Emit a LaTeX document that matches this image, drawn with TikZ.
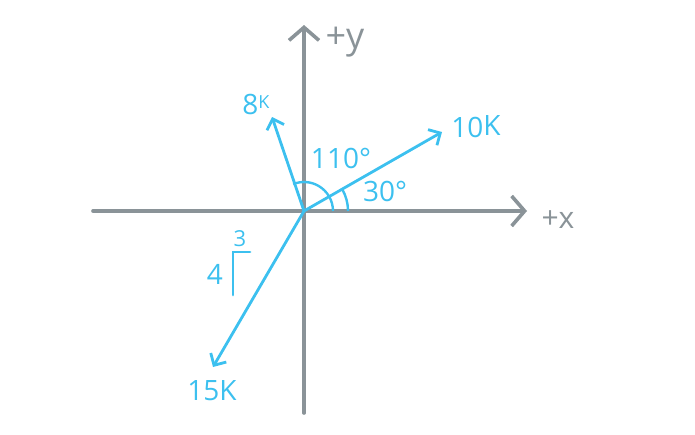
\documentclass[tikz,border=0pt]{standalone}
\usepackage{fontspec}
\setmainfont{Open Sans}
\usetikzlibrary{arrows.meta}
\definecolor{axisgray}{HTML}{8A9398}
\definecolor{vecblue}{HTML}{3CC0EF}
\begin{document}
\begin{tikzpicture}[x=1pt,y=-1pt,
  axisline/.style={draw=axisgray,line width=3.6pt,line cap=round,
    -{Straight Barb[length=13pt,width=30pt,line width=3.6pt]}},
  vecline/.style={draw=vecblue,line width=2.8pt,line cap=round,
    -{Straight Barb[length=9pt,width=18pt,line width=2.8pt]}},
  arcline/.style={draw=vecblue,line width=2.4pt},
  grlabel/.style={text=axisgray,font=\fontsize{30}{30}\selectfont,inner sep=0pt},
  bllabel/.style={text=vecblue,font=\fontsize{28}{28}\selectfont,inner sep=0pt}]
\useasboundingbox (0,0) rectangle (695,434);
\coordinate (O) at (304,211);
\coordinate (xl) at (93,211);
\coordinate (xr) at (527,211);
\coordinate (yb) at (304,413);
\coordinate (yt) at (304,25);
\coordinate (t10) at (442,132);
\coordinate (t8) at (272,117);
\coordinate (t15) at (213,367);
% axes
\draw[axisline] (xl) -- (xr);
\draw[axisline] (yb) -- (yt);
\node[grlabel] (lx) at (558,220) {+x};
\node[grlabel,font=\fontsize{36}{36}\selectfont] (ly) at (345,42) {+y};
% angle arcs
\draw[arcline] ([shift={(0:29)}]O) arc[start angle=0,end angle=-112,radius=29];
\draw[arcline] ([shift={(0:44)}]O) arc[start angle=0,end angle=-30,radius=44];
% vectors
\draw[vecline] (O) -- (t10);
\draw[vecline] (O) -- (t8);
\draw[vecline] (O) -- (t15);
% slope triangle
\coordinate (s1) at (233,295);
\coordinate (s2) at (233,252);
\coordinate (s3) at (250,252);
\draw[draw=vecblue,line width=2.8pt,line cap=round] (s1) -- (s2) -- (s3);
\node[bllabel,font=\fontsize{22}{22}\selectfont] (l3) at (240,239) {3};
\node[bllabel] (l4) at (215,274) {4};
% labels
\node[bllabel] (l10) at (476,127) {10\raisebox{2pt}{K}};
\node[bllabel] (l8) at (256,104) {8\raisebox{6pt}{\fontsize{18}{18}\selectfont K}};
\node[bllabel] (l15) at (212,391) {15K};
\node[bllabel] (l110) at (341,158) {110°};
\node[bllabel] (l30) at (385,191) {30°};
\end{tikzpicture}
\end{document}
